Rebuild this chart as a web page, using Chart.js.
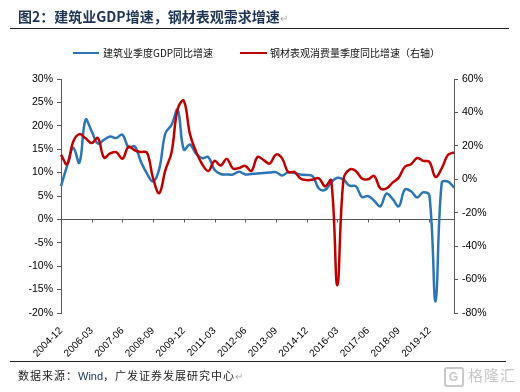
<!DOCTYPE html>
<html><head><meta charset="utf-8">
<script src="https://cdn.jsdelivr.net/npm/chart.js@4/dist/chart.umd.min.js"></script>
<style>
html,body{margin:0;padding:0;background:#fff;width:520px;height:392px;overflow:hidden;font-family:"Noto Sans CJK SC",sans-serif;}
#wrap{position:absolute;left:0;top:0;width:520px;height:392px;}
canvas{position:absolute;left:0;top:0;}
.abs{position:absolute;white-space:nowrap;}
#title{left:18px;top:7px;font-size:14px;font-weight:bold;color:#1F3556;line-height:18px;}
.rule{position:absolute;height:0;border-top:1px solid #222;}
.leg{font-size:10px;color:#111;line-height:12px;}
.sw{position:absolute;height:0;border-top:2.5px solid;}
#foot{left:18px;top:367px;font-size:11px;letter-spacing:1px;color:#222;line-height:16px;}
.ret{color:#aaa;font-weight:normal;font-size:10px;}
#wm{left:444px;top:364px;color:#c8c8c8;font-size:15px;line-height:22px;letter-spacing:1px;}
#wm span.g{display:inline-block;width:16px;height:16px;border:2px solid #c8c8c8;border-radius:3px;font-size:12px;line-height:16px;text-align:center;font-family:"Liberation Sans",sans-serif;font-weight:bold;margin-right:4px;vertical-align:middle;}
</style></head>
<body>
<div id="wrap">
<canvas id="c" width="520" height="392"></canvas>
<div class="abs" id="title">图2：建筑业GDP增速，钢材表观需求增速<span class="ret">↵</span></div>
<div class="rule" style="left:10px;top:28px;width:499px;"></div>
<div class="sw" style="left:73px;top:52px;width:26px;border-color:#2E75B6;"></div>
<div class="abs leg" style="left:103px;top:47px;">建筑业季度GDP同比增速</div>
<div class="sw" style="left:240px;top:52px;width:27px;border-color:#C00000;"></div>
<div class="abs leg" style="left:270px;top:47px;">钢材表观消费量季度同比增速（右轴）</div>
<div class="rule" style="left:10px;top:361px;width:496px;"></div>
<div class="abs" id="foot">数据来源：<span style="color:#1F3864;font-family:'Liberation Sans',sans-serif;letter-spacing:0">Wind</span>，广发证券发展研究中心<span class="ret">↵</span></div>
<div class="abs" id="wm"><span class="g">G</span>格隆汇</div>
</div>
<script>
const categories = [
"2004-12","2005-03","2005-06","2005-09","2005-12","2006-03","2006-06","2006-09","2006-12",
"2007-03","2007-06","2007-09","2007-12","2008-03","2008-06","2008-09","2008-12",
"2009-03","2009-06","2009-09","2009-12","2010-03","2010-06","2010-09","2010-12",
"2011-03","2011-06","2011-09","2011-12","2012-03","2012-06","2012-09","2012-12",
"2013-03","2013-06","2013-09","2013-12","2014-03","2014-06","2014-09","2014-12",
"2015-03","2015-06","2015-09","2015-12","2016-03","2016-06","2016-09","2016-12",
"2017-03","2017-06","2017-09","2017-12","2018-03","2018-06","2018-09","2018-12",
"2019-03","2019-06","2019-09","2019-12","2020-03","2020-06","2020-09","2020-12"
];
const constructionGdpYoY = [
7.1,11.5,15.3,12.1,21.3,18.8,16.2,17.0,17.7,
17.4,18.1,15.4,15.6,12.4,9.8,8.1,10.8,
18.4,20.2,23.4,14.9,16.0,14.0,13.1,13.3,
10.6,9.7,9.6,9.6,10.2,9.6,9.7,9.8,
9.9,10.0,10.1,9.4,10.1,9.9,9.6,9.5,
9.2,6.6,6.3,7.9,8.9,8.5,7.2,7.1,
4.8,5.0,4.0,2.8,5.5,4.4,2.8,6.4,
6.0,4.7,5.8,5.1,-17.5,7.8,8.1,6.8
];
const steelDemandYoY = [
14.7,9.0,22.6,27.0,24.5,21.7,24.7,13.0,15.5,
16.2,12.3,19.5,17.3,16.3,16.0,0.5,-8.3,
5.5,16.0,42.0,47.0,27.0,16.5,9.0,5.0,
11.0,8.2,12.2,6.5,6.8,8.0,5.0,13.3,
11.5,9.4,14.8,12.5,4.3,4.4,0.5,-0.5,
-0.2,0.6,-4.2,-0.6,-63.5,-0.2,5.8,5.0,
0.5,0.0,2.0,-5.5,-5.5,-2.0,1.0,7.5,
9.0,12.7,11.0,10.4,1.4,6.5,14.5,16.1
];
const seriesNames = ["建筑业季度GDP同比增速","钢材表观消费量季度同比增速（右轴）"];
const leftTicks = {min:-20,max:30,step:5};
const rightTicks = {min:-80,max:60,step:20};
const labelEvery = 5;

const axisColor = '#595959';
const zeroTicks = {
  id:'zeroTicks',
  beforeDatasetsDraw(chart){
    const x = chart.scales.x, y = chart.scales.y, ctx = chart.ctx;
    const y0 = Math.round(y.getPixelForValue(0)) + 0.5;
    ctx.save();
    ctx.strokeStyle = axisColor; ctx.lineWidth = 1;
    ctx.beginPath();
    for (let i = 0; i < categories.length; i += labelEvery) {
      const px = Math.round(x.getPixelForValue(i)) + 0.5;
      ctx.moveTo(px, y0); ctx.lineTo(px, y0 + 3);
    }
    ctx.stroke();
    ctx.restore();
  }
};

new Chart(document.getElementById('c'), {
  type:'line',
  data:{
    labels:categories,
    datasets:[
      {label:seriesNames[0], data:constructionGdpYoY, yAxisID:'y', borderColor:'#2E75B6', borderWidth:2.5, pointRadius:0, tension:0.4, order:1},
      {label:seriesNames[1], data:steelDemandYoY, yAxisID:'y1', borderColor:'#C00000', borderWidth:2.5, pointRadius:0, tension:0.4, order:0}
    ]
  },
  options:{
    responsive:false, animation:false, devicePixelRatio:1,
    layout:{padding:{top:79,left:0,right:0,bottom:0}},
    plugins:{legend:{display:false}, tooltip:{enabled:false}},
    scales:{
      x:{
        type:'category', offset:false,
        grid:{display:false}, border:{display:false},
        ticks:{autoSkip:false, minRotation:45, maxRotation:45, padding:4,
          color:'#000', font:{family:'"Liberation Sans", Arial, sans-serif', size:10},
          callback:(v,i)=> i % labelEvery === 0 ? categories[i] : ''},
        afterFit:(s)=>{ s.height = 79; }
      },
      y:{
        position:'left', min:leftTicks.min, max:leftTicks.max,
        ticks:{stepSize:leftTicks.step, padding:4, color:'#000',
          font:{family:'"Liberation Sans", Arial, sans-serif', size:10.5},
          callback:(v)=> v + '%'},
        grid:{color:(c)=> c.tick && c.tick.value === 0 ? axisColor : 'rgba(0,0,0,0)', tickColor:axisColor, tickLength:4, lineWidth:1},
        border:{display:true, color:axisColor, width:1},
        afterFit:(s)=>{ s.width = 61; }
      },
      y1:{
        position:'right', min:rightTicks.min, max:rightTicks.max,
        ticks:{stepSize:rightTicks.step, padding:4, color:'#000',
          font:{family:'"Liberation Sans", Arial, sans-serif', size:10.5},
          callback:(v)=> v + '%'},
        grid:{drawOnChartArea:false, color:axisColor, tickLength:4},
        border:{display:true, color:axisColor, width:1},
        afterFit:(s)=>{ s.width = 66; }
      }
    }
  },
  plugins:[zeroTicks]
});
</script>
</body></html>
